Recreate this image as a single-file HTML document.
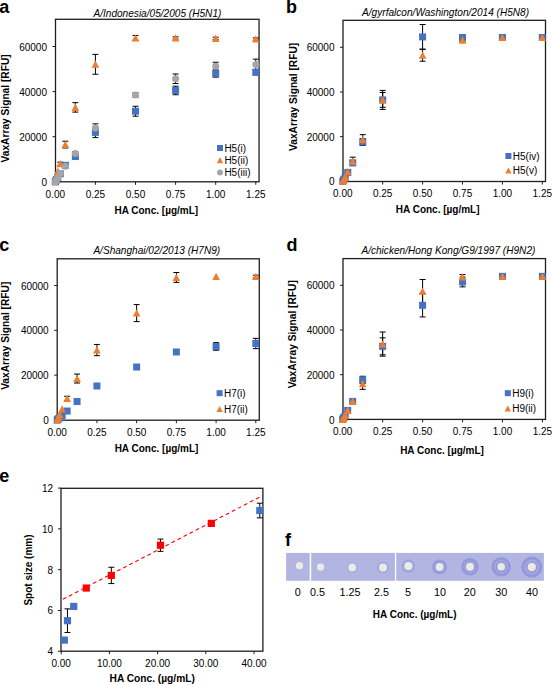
<!DOCTYPE html>
<html><head><meta charset="utf-8"><style>
html,body{margin:0;padding:0;background:#fff;}
body{width:552px;height:685px;overflow:hidden;}
svg{display:block;font-family:"Liberation Sans",sans-serif;}
</style></head><body>
<svg width="552" height="685" viewBox="0 0 552 685">
<rect width="552" height="685" fill="#fff"/>
<rect x="55.50" y="19.30" width="203.55" height="162.50" fill="none" stroke="#1e1e1e" stroke-width="1.3"/>
<line x1="52.50" y1="181.80" x2="55.50" y2="181.80" stroke="#1e1e1e" stroke-width="1" />
<text x="47.00" y="185.90" font-size="10" text-anchor="end" font-weight="normal" font-style="normal" fill="#000" >0</text>
<line x1="52.50" y1="136.70" x2="55.50" y2="136.70" stroke="#1e1e1e" stroke-width="1" />
<text x="47.00" y="140.80" font-size="10" text-anchor="end" font-weight="normal" font-style="normal" fill="#000" >20000</text>
<line x1="52.50" y1="91.60" x2="55.50" y2="91.60" stroke="#1e1e1e" stroke-width="1" />
<text x="47.00" y="95.70" font-size="10" text-anchor="end" font-weight="normal" font-style="normal" fill="#000" >40000</text>
<line x1="52.50" y1="46.50" x2="55.50" y2="46.50" stroke="#1e1e1e" stroke-width="1" />
<text x="47.00" y="50.60" font-size="10" text-anchor="end" font-weight="normal" font-style="normal" fill="#000" >60000</text>
<line x1="55.30" y1="181.80" x2="55.30" y2="184.80" stroke="#1e1e1e" stroke-width="1" />
<text x="55.30" y="197.50" font-size="10" text-anchor="middle" font-weight="normal" font-style="normal" fill="#000" >0.00</text>
<line x1="95.40" y1="181.80" x2="95.40" y2="184.80" stroke="#1e1e1e" stroke-width="1" />
<text x="95.40" y="197.50" font-size="10" text-anchor="middle" font-weight="normal" font-style="normal" fill="#000" >0.25</text>
<line x1="135.50" y1="181.80" x2="135.50" y2="184.80" stroke="#1e1e1e" stroke-width="1" />
<text x="135.50" y="197.50" font-size="10" text-anchor="middle" font-weight="normal" font-style="normal" fill="#000" >0.50</text>
<line x1="175.60" y1="181.80" x2="175.60" y2="184.80" stroke="#1e1e1e" stroke-width="1" />
<text x="175.60" y="197.50" font-size="10" text-anchor="middle" font-weight="normal" font-style="normal" fill="#000" >0.75</text>
<line x1="215.70" y1="181.80" x2="215.70" y2="184.80" stroke="#1e1e1e" stroke-width="1" />
<text x="215.70" y="197.50" font-size="10" text-anchor="middle" font-weight="normal" font-style="normal" fill="#000" >1.00</text>
<line x1="255.80" y1="181.80" x2="255.80" y2="184.80" stroke="#1e1e1e" stroke-width="1" />
<text x="255.80" y="197.50" font-size="10" text-anchor="middle" font-weight="normal" font-style="normal" fill="#000" >1.25</text>
<text x="157.40" y="16.50" font-size="10.1" text-anchor="middle" font-weight="normal" font-style="italic" fill="#000" >A/Indonesia/05/2005 (H5N1)</text>
<text x="156.30" y="213.90" font-size="10" text-anchor="middle" font-weight="bold" font-style="normal" fill="#000" >HA Conc. [µg/mL]</text>
<text x="0.00" y="0.00" font-size="10.2" text-anchor="middle" font-weight="bold" font-style="normal" fill="#000" transform="translate(9.20,108.40) rotate(-90)">VaxArray Signal [RFU]</text>
<text x="-0.70" y="12.60" font-size="18" text-anchor="start" font-weight="bold" font-style="normal" fill="#000" >a</text>
<line x1="65.33" y1="163.99" x2="65.33" y2="166.69" stroke="#000" stroke-width="1" />
<line x1="62.33" y1="163.99" x2="68.33" y2="163.99" stroke="#000" stroke-width="1" />
<line x1="62.33" y1="166.69" x2="68.33" y2="166.69" stroke="#000" stroke-width="1" />
<line x1="75.35" y1="154.74" x2="75.35" y2="158.35" stroke="#000" stroke-width="1" />
<line x1="72.35" y1="154.74" x2="78.35" y2="154.74" stroke="#000" stroke-width="1" />
<line x1="72.35" y1="158.35" x2="78.35" y2="158.35" stroke="#000" stroke-width="1" />
<line x1="95.40" y1="127.23" x2="95.40" y2="137.60" stroke="#000" stroke-width="1" />
<line x1="92.40" y1="127.23" x2="98.40" y2="127.23" stroke="#000" stroke-width="1" />
<line x1="92.40" y1="137.60" x2="98.40" y2="137.60" stroke="#000" stroke-width="1" />
<line x1="135.50" y1="106.26" x2="135.50" y2="116.18" stroke="#000" stroke-width="1" />
<line x1="132.50" y1="106.26" x2="138.50" y2="106.26" stroke="#000" stroke-width="1" />
<line x1="132.50" y1="116.18" x2="138.50" y2="116.18" stroke="#000" stroke-width="1" />
<line x1="175.60" y1="86.19" x2="175.60" y2="94.76" stroke="#000" stroke-width="1" />
<line x1="172.60" y1="86.19" x2="178.60" y2="86.19" stroke="#000" stroke-width="1" />
<line x1="172.60" y1="94.76" x2="178.60" y2="94.76" stroke="#000" stroke-width="1" />
<line x1="215.70" y1="69.95" x2="215.70" y2="77.17" stroke="#000" stroke-width="1" />
<line x1="212.70" y1="69.95" x2="218.70" y2="69.95" stroke="#000" stroke-width="1" />
<line x1="212.70" y1="77.17" x2="218.70" y2="77.17" stroke="#000" stroke-width="1" />
<line x1="255.80" y1="69.50" x2="255.80" y2="74.91" stroke="#000" stroke-width="1" />
<line x1="252.80" y1="69.50" x2="258.80" y2="69.50" stroke="#000" stroke-width="1" />
<line x1="252.80" y1="74.91" x2="258.80" y2="74.91" stroke="#000" stroke-width="1" />
<line x1="60.31" y1="162.18" x2="60.31" y2="165.34" stroke="#000" stroke-width="1" />
<line x1="57.31" y1="162.18" x2="63.31" y2="162.18" stroke="#000" stroke-width="1" />
<line x1="57.31" y1="165.34" x2="63.31" y2="165.34" stroke="#000" stroke-width="1" />
<line x1="65.33" y1="141.21" x2="65.33" y2="147.97" stroke="#000" stroke-width="1" />
<line x1="62.33" y1="141.21" x2="68.33" y2="141.21" stroke="#000" stroke-width="1" />
<line x1="62.33" y1="147.97" x2="68.33" y2="147.97" stroke="#000" stroke-width="1" />
<line x1="75.35" y1="102.65" x2="75.35" y2="112.12" stroke="#000" stroke-width="1" />
<line x1="72.35" y1="102.65" x2="78.35" y2="102.65" stroke="#000" stroke-width="1" />
<line x1="72.35" y1="112.12" x2="78.35" y2="112.12" stroke="#000" stroke-width="1" />
<line x1="95.40" y1="54.39" x2="95.40" y2="74.24" stroke="#000" stroke-width="1" />
<line x1="92.40" y1="54.39" x2="98.40" y2="54.39" stroke="#000" stroke-width="1" />
<line x1="92.40" y1="74.24" x2="98.40" y2="74.24" stroke="#000" stroke-width="1" />
<line x1="135.50" y1="35.45" x2="135.50" y2="40.41" stroke="#000" stroke-width="1" />
<line x1="132.50" y1="35.45" x2="138.50" y2="35.45" stroke="#000" stroke-width="1" />
<line x1="132.50" y1="40.41" x2="138.50" y2="40.41" stroke="#000" stroke-width="1" />
<line x1="175.60" y1="36.80" x2="175.60" y2="39.06" stroke="#000" stroke-width="1" />
<line x1="172.60" y1="36.80" x2="178.60" y2="36.80" stroke="#000" stroke-width="1" />
<line x1="172.60" y1="39.06" x2="178.60" y2="39.06" stroke="#000" stroke-width="1" />
<line x1="215.70" y1="37.25" x2="215.70" y2="39.51" stroke="#000" stroke-width="1" />
<line x1="212.70" y1="37.25" x2="218.70" y2="37.25" stroke="#000" stroke-width="1" />
<line x1="212.70" y1="39.51" x2="218.70" y2="39.51" stroke="#000" stroke-width="1" />
<line x1="255.80" y1="37.93" x2="255.80" y2="40.19" stroke="#000" stroke-width="1" />
<line x1="252.80" y1="37.93" x2="258.80" y2="37.93" stroke="#000" stroke-width="1" />
<line x1="252.80" y1="40.19" x2="258.80" y2="40.19" stroke="#000" stroke-width="1" />
<line x1="65.33" y1="165.11" x2="65.33" y2="167.37" stroke="#000" stroke-width="1" />
<line x1="62.33" y1="165.11" x2="68.33" y2="165.11" stroke="#000" stroke-width="1" />
<line x1="62.33" y1="167.37" x2="68.33" y2="167.37" stroke="#000" stroke-width="1" />
<line x1="75.35" y1="151.58" x2="75.35" y2="155.19" stroke="#000" stroke-width="1" />
<line x1="72.35" y1="151.58" x2="78.35" y2="151.58" stroke="#000" stroke-width="1" />
<line x1="72.35" y1="155.19" x2="78.35" y2="155.19" stroke="#000" stroke-width="1" />
<line x1="95.40" y1="123.85" x2="95.40" y2="131.96" stroke="#000" stroke-width="1" />
<line x1="92.40" y1="123.85" x2="98.40" y2="123.85" stroke="#000" stroke-width="1" />
<line x1="92.40" y1="131.96" x2="98.40" y2="131.96" stroke="#000" stroke-width="1" />
<line x1="135.50" y1="92.73" x2="135.50" y2="97.24" stroke="#000" stroke-width="1" />
<line x1="132.50" y1="92.73" x2="138.50" y2="92.73" stroke="#000" stroke-width="1" />
<line x1="132.50" y1="97.24" x2="138.50" y2="97.24" stroke="#000" stroke-width="1" />
<line x1="175.60" y1="74.01" x2="175.60" y2="83.48" stroke="#000" stroke-width="1" />
<line x1="172.60" y1="74.01" x2="178.60" y2="74.01" stroke="#000" stroke-width="1" />
<line x1="172.60" y1="83.48" x2="178.60" y2="83.48" stroke="#000" stroke-width="1" />
<line x1="215.70" y1="62.29" x2="215.70" y2="70.40" stroke="#000" stroke-width="1" />
<line x1="212.70" y1="62.29" x2="218.70" y2="62.29" stroke="#000" stroke-width="1" />
<line x1="212.70" y1="70.40" x2="218.70" y2="70.40" stroke="#000" stroke-width="1" />
<line x1="255.80" y1="59.13" x2="255.80" y2="69.95" stroke="#000" stroke-width="1" />
<line x1="252.80" y1="59.13" x2="258.80" y2="59.13" stroke="#000" stroke-width="1" />
<line x1="252.80" y1="69.95" x2="258.80" y2="69.95" stroke="#000" stroke-width="1" />
<rect x="51.80" y="178.30" width="7" height="7" fill="#4472C4"/>
<rect x="52.43" y="177.17" width="7" height="7" fill="#4472C4"/>
<rect x="53.05" y="176.05" width="7" height="7" fill="#4472C4"/>
<rect x="54.30" y="174.02" width="7" height="7" fill="#4472C4"/>
<rect x="56.81" y="170.18" width="7" height="7" fill="#4472C4"/>
<rect x="61.83" y="161.84" width="7" height="7" fill="#4472C4"/>
<rect x="71.85" y="153.04" width="7" height="7" fill="#4472C4"/>
<rect x="91.90" y="128.92" width="7" height="7" fill="#4472C4"/>
<rect x="132.00" y="107.72" width="7" height="7" fill="#4472C4"/>
<rect x="172.10" y="86.97" width="7" height="7" fill="#4472C4"/>
<rect x="212.20" y="70.06" width="7" height="7" fill="#4472C4"/>
<rect x="252.30" y="68.71" width="7" height="7" fill="#4472C4"/>
<polygon points="55.30,178.00 59.10,185.30 51.50,185.30" fill="#ED7D31"/>
<polygon points="55.93,175.75 59.73,183.05 52.13,183.05" fill="#ED7D31"/>
<polygon points="56.55,173.04 60.35,180.34 52.75,180.34" fill="#ED7D31"/>
<polygon points="57.80,167.40 61.60,174.70 54.00,174.70" fill="#ED7D31"/>
<polygon points="60.31,159.96 64.11,167.26 56.51,167.26" fill="#ED7D31"/>
<polygon points="65.33,140.79 69.12,148.09 61.53,148.09" fill="#ED7D31"/>
<polygon points="75.35,103.59 79.15,110.89 71.55,110.89" fill="#ED7D31"/>
<polygon points="95.40,60.51 99.20,67.81 91.60,67.81" fill="#ED7D31"/>
<polygon points="135.50,34.13 139.30,41.43 131.70,41.43" fill="#ED7D31"/>
<polygon points="175.60,34.13 179.40,41.43 171.80,41.43" fill="#ED7D31"/>
<polygon points="215.70,34.58 219.50,41.88 211.90,41.88" fill="#ED7D31"/>
<polygon points="255.80,35.26 259.60,42.56 252.00,42.56" fill="#ED7D31"/>
<circle cx="55.30" cy="181.80" r="3.5" fill="#A5A5A5"/>
<circle cx="55.93" cy="180.67" r="3.5" fill="#A5A5A5"/>
<circle cx="56.55" cy="179.55" r="3.5" fill="#A5A5A5"/>
<circle cx="57.80" cy="177.74" r="3.5" fill="#A5A5A5"/>
<circle cx="60.31" cy="173.23" r="3.5" fill="#A5A5A5"/>
<circle cx="65.33" cy="166.24" r="3.5" fill="#A5A5A5"/>
<circle cx="75.35" cy="153.39" r="3.5" fill="#A5A5A5"/>
<circle cx="95.40" cy="127.91" r="3.5" fill="#A5A5A5"/>
<circle cx="135.50" cy="94.98" r="3.5" fill="#A5A5A5"/>
<circle cx="175.60" cy="78.75" r="3.5" fill="#A5A5A5"/>
<circle cx="215.70" cy="66.34" r="3.5" fill="#A5A5A5"/>
<circle cx="255.80" cy="64.54" r="3.5" fill="#A5A5A5"/>
<rect x="217.00" y="145.00" width="6" height="6" fill="#4472C4"/>
<text x="224.40" y="151.60" font-size="10" text-anchor="start" font-weight="normal" font-style="normal" fill="#000" >H5(i)</text>
<polygon points="220.00,157.10 223.20,163.20 216.80,163.20" fill="#ED7D31"/>
<text x="224.40" y="163.90" font-size="10" text-anchor="start" font-weight="normal" font-style="normal" fill="#000" >H5(ii)</text>
<circle cx="220.00" cy="172.60" r="3" fill="#A5A5A5"/>
<text x="224.40" y="176.20" font-size="10" text-anchor="start" font-weight="normal" font-style="normal" fill="#000" >H5(iii)</text>
<rect x="343.00" y="20.30" width="202.50" height="161.20" fill="none" stroke="#1e1e1e" stroke-width="1.3"/>
<line x1="340.00" y1="181.30" x2="343.00" y2="181.30" stroke="#1e1e1e" stroke-width="1" />
<text x="334.50" y="185.40" font-size="10" text-anchor="end" font-weight="normal" font-style="normal" fill="#000" >0</text>
<line x1="340.00" y1="136.63" x2="343.00" y2="136.63" stroke="#1e1e1e" stroke-width="1" />
<text x="334.50" y="140.73" font-size="10" text-anchor="end" font-weight="normal" font-style="normal" fill="#000" >20000</text>
<line x1="340.00" y1="91.96" x2="343.00" y2="91.96" stroke="#1e1e1e" stroke-width="1" />
<text x="334.50" y="96.06" font-size="10" text-anchor="end" font-weight="normal" font-style="normal" fill="#000" >40000</text>
<line x1="340.00" y1="47.29" x2="343.00" y2="47.29" stroke="#1e1e1e" stroke-width="1" />
<text x="334.50" y="51.39" font-size="10" text-anchor="end" font-weight="normal" font-style="normal" fill="#000" >60000</text>
<line x1="342.80" y1="181.50" x2="342.80" y2="184.50" stroke="#1e1e1e" stroke-width="1" />
<text x="342.80" y="197.20" font-size="10" text-anchor="middle" font-weight="normal" font-style="normal" fill="#000" >0.00</text>
<line x1="382.70" y1="181.50" x2="382.70" y2="184.50" stroke="#1e1e1e" stroke-width="1" />
<text x="382.70" y="197.20" font-size="10" text-anchor="middle" font-weight="normal" font-style="normal" fill="#000" >0.25</text>
<line x1="422.60" y1="181.50" x2="422.60" y2="184.50" stroke="#1e1e1e" stroke-width="1" />
<text x="422.60" y="197.20" font-size="10" text-anchor="middle" font-weight="normal" font-style="normal" fill="#000" >0.50</text>
<line x1="462.50" y1="181.50" x2="462.50" y2="184.50" stroke="#1e1e1e" stroke-width="1" />
<text x="462.50" y="197.20" font-size="10" text-anchor="middle" font-weight="normal" font-style="normal" fill="#000" >0.75</text>
<line x1="502.40" y1="181.50" x2="502.40" y2="184.50" stroke="#1e1e1e" stroke-width="1" />
<text x="502.40" y="197.20" font-size="10" text-anchor="middle" font-weight="normal" font-style="normal" fill="#000" >1.00</text>
<line x1="542.30" y1="181.50" x2="542.30" y2="184.50" stroke="#1e1e1e" stroke-width="1" />
<text x="542.30" y="197.20" font-size="10" text-anchor="middle" font-weight="normal" font-style="normal" fill="#000" >1.25</text>
<text x="445.60" y="15.50" font-size="10.1" text-anchor="middle" font-weight="normal" font-style="italic" fill="#000" >A/gyrfalcon/Washington/2014 (H5N8)</text>
<text x="437.70" y="213.30" font-size="10" text-anchor="middle" font-weight="bold" font-style="normal" fill="#000" >HA Conc. [µg/mL]</text>
<text x="0.00" y="0.00" font-size="10.2" text-anchor="middle" font-weight="bold" font-style="normal" fill="#000" transform="translate(296.50,96.90) rotate(-90)">VaxArray Signal [RFU]</text>
<text x="285.90" y="12.60" font-size="18" text-anchor="start" font-weight="bold" font-style="normal" fill="#000" >b</text>
<line x1="347.79" y1="171.25" x2="347.79" y2="173.48" stroke="#000" stroke-width="1" />
<line x1="344.79" y1="171.25" x2="350.79" y2="171.25" stroke="#000" stroke-width="1" />
<line x1="344.79" y1="173.48" x2="350.79" y2="173.48" stroke="#000" stroke-width="1" />
<line x1="352.78" y1="160.53" x2="352.78" y2="165.00" stroke="#000" stroke-width="1" />
<line x1="349.78" y1="160.53" x2="355.78" y2="160.53" stroke="#000" stroke-width="1" />
<line x1="349.78" y1="165.00" x2="355.78" y2="165.00" stroke="#000" stroke-width="1" />
<line x1="362.75" y1="138.64" x2="362.75" y2="145.34" stroke="#000" stroke-width="1" />
<line x1="359.75" y1="138.64" x2="365.75" y2="138.64" stroke="#000" stroke-width="1" />
<line x1="359.75" y1="145.34" x2="365.75" y2="145.34" stroke="#000" stroke-width="1" />
<line x1="382.70" y1="90.42" x2="382.70" y2="109.40" stroke="#000" stroke-width="1" />
<line x1="379.70" y1="90.42" x2="385.70" y2="90.42" stroke="#000" stroke-width="1" />
<line x1="379.70" y1="109.40" x2="385.70" y2="109.40" stroke="#000" stroke-width="1" />
<line x1="422.60" y1="24.51" x2="422.60" y2="49.30" stroke="#000" stroke-width="1" />
<line x1="419.60" y1="24.51" x2="425.60" y2="24.51" stroke="#000" stroke-width="1" />
<line x1="419.60" y1="49.30" x2="425.60" y2="49.30" stroke="#000" stroke-width="1" />
<line x1="462.50" y1="36.12" x2="462.50" y2="38.80" stroke="#000" stroke-width="1" />
<line x1="459.50" y1="36.12" x2="465.50" y2="36.12" stroke="#000" stroke-width="1" />
<line x1="459.50" y1="38.80" x2="465.50" y2="38.80" stroke="#000" stroke-width="1" />
<line x1="502.40" y1="36.12" x2="502.40" y2="38.80" stroke="#000" stroke-width="1" />
<line x1="499.40" y1="36.12" x2="505.40" y2="36.12" stroke="#000" stroke-width="1" />
<line x1="499.40" y1="38.80" x2="505.40" y2="38.80" stroke="#000" stroke-width="1" />
<line x1="542.30" y1="36.12" x2="542.30" y2="38.80" stroke="#000" stroke-width="1" />
<line x1="539.30" y1="36.12" x2="545.30" y2="36.12" stroke="#000" stroke-width="1" />
<line x1="539.30" y1="38.80" x2="545.30" y2="38.80" stroke="#000" stroke-width="1" />
<line x1="347.79" y1="170.58" x2="347.79" y2="172.81" stroke="#000" stroke-width="1" />
<line x1="344.79" y1="170.58" x2="350.79" y2="170.58" stroke="#000" stroke-width="1" />
<line x1="344.79" y1="172.81" x2="350.79" y2="172.81" stroke="#000" stroke-width="1" />
<line x1="352.78" y1="157.18" x2="352.78" y2="165.67" stroke="#000" stroke-width="1" />
<line x1="349.78" y1="157.18" x2="355.78" y2="157.18" stroke="#000" stroke-width="1" />
<line x1="349.78" y1="165.67" x2="355.78" y2="165.67" stroke="#000" stroke-width="1" />
<line x1="362.75" y1="134.62" x2="362.75" y2="144.89" stroke="#000" stroke-width="1" />
<line x1="359.75" y1="134.62" x2="365.75" y2="134.62" stroke="#000" stroke-width="1" />
<line x1="359.75" y1="144.89" x2="365.75" y2="144.89" stroke="#000" stroke-width="1" />
<line x1="382.70" y1="92.54" x2="382.70" y2="107.28" stroke="#000" stroke-width="1" />
<line x1="379.70" y1="92.54" x2="385.70" y2="92.54" stroke="#000" stroke-width="1" />
<line x1="379.70" y1="107.28" x2="385.70" y2="107.28" stroke="#000" stroke-width="1" />
<line x1="422.60" y1="49.17" x2="422.60" y2="61.23" stroke="#000" stroke-width="1" />
<line x1="419.60" y1="49.17" x2="425.60" y2="49.17" stroke="#000" stroke-width="1" />
<line x1="419.60" y1="61.23" x2="425.60" y2="61.23" stroke="#000" stroke-width="1" />
<line x1="462.50" y1="38.80" x2="462.50" y2="41.48" stroke="#000" stroke-width="1" />
<line x1="459.50" y1="38.80" x2="465.50" y2="38.80" stroke="#000" stroke-width="1" />
<line x1="459.50" y1="41.48" x2="465.50" y2="41.48" stroke="#000" stroke-width="1" />
<line x1="502.40" y1="36.12" x2="502.40" y2="38.80" stroke="#000" stroke-width="1" />
<line x1="499.40" y1="36.12" x2="505.40" y2="36.12" stroke="#000" stroke-width="1" />
<line x1="499.40" y1="38.80" x2="505.40" y2="38.80" stroke="#000" stroke-width="1" />
<line x1="542.30" y1="36.12" x2="542.30" y2="38.80" stroke="#000" stroke-width="1" />
<line x1="539.30" y1="36.12" x2="545.30" y2="36.12" stroke="#000" stroke-width="1" />
<line x1="539.30" y1="38.80" x2="545.30" y2="38.80" stroke="#000" stroke-width="1" />
<rect x="339.30" y="177.80" width="7" height="7" fill="#4472C4"/>
<rect x="339.92" y="176.68" width="7" height="7" fill="#4472C4"/>
<rect x="340.54" y="175.57" width="7" height="7" fill="#4472C4"/>
<rect x="341.79" y="173.33" width="7" height="7" fill="#4472C4"/>
<rect x="344.29" y="168.87" width="7" height="7" fill="#4472C4"/>
<rect x="349.28" y="159.26" width="7" height="7" fill="#4472C4"/>
<rect x="359.25" y="138.49" width="7" height="7" fill="#4472C4"/>
<rect x="379.20" y="96.41" width="7" height="7" fill="#4472C4"/>
<rect x="419.10" y="33.40" width="7" height="7" fill="#4472C4"/>
<rect x="459.00" y="33.96" width="7" height="7" fill="#4472C4"/>
<rect x="498.90" y="33.96" width="7" height="7" fill="#4472C4"/>
<rect x="538.80" y="33.96" width="7" height="7" fill="#4472C4"/>
<polygon points="342.80,177.50 346.60,184.80 339.00,184.80" fill="#ED7D31"/>
<polygon points="343.42,176.38 347.22,183.68 339.62,183.68" fill="#ED7D31"/>
<polygon points="344.04,175.27 347.84,182.57 340.24,182.57" fill="#ED7D31"/>
<polygon points="345.29,173.03 349.09,180.33 341.49,180.33" fill="#ED7D31"/>
<polygon points="347.79,167.90 351.59,175.20 343.99,175.20" fill="#ED7D31"/>
<polygon points="352.78,157.62 356.58,164.92 348.98,164.92" fill="#ED7D31"/>
<polygon points="362.75,135.96 366.55,143.26 358.95,143.26" fill="#ED7D31"/>
<polygon points="382.70,96.11 386.50,103.41 378.90,103.41" fill="#ED7D31"/>
<polygon points="422.60,51.40 426.40,58.70 418.80,58.70" fill="#ED7D31"/>
<polygon points="462.50,36.34 466.30,43.64 458.70,43.64" fill="#ED7D31"/>
<polygon points="502.40,33.66 506.20,40.96 498.60,40.96" fill="#ED7D31"/>
<polygon points="542.30,33.66 546.10,40.96 538.50,40.96" fill="#ED7D31"/>
<rect x="505.40" y="153.00" width="6" height="6" fill="#4472C4"/>
<text x="512.80" y="159.60" font-size="10" text-anchor="start" font-weight="normal" font-style="normal" fill="#000" >H5(iv)</text>
<polygon points="508.40,167.40 511.60,173.50 505.20,173.50" fill="#ED7D31"/>
<text x="512.80" y="174.20" font-size="10" text-anchor="start" font-weight="normal" font-style="normal" fill="#000" >H5(v)</text>
<rect x="57.20" y="258.80" width="202.10" height="161.40" fill="none" stroke="#1e1e1e" stroke-width="1.3"/>
<line x1="54.20" y1="420.00" x2="57.20" y2="420.00" stroke="#1e1e1e" stroke-width="1" />
<text x="48.70" y="424.10" font-size="10" text-anchor="end" font-weight="normal" font-style="normal" fill="#000" >0</text>
<line x1="54.20" y1="375.17" x2="57.20" y2="375.17" stroke="#1e1e1e" stroke-width="1" />
<text x="48.70" y="379.27" font-size="10" text-anchor="end" font-weight="normal" font-style="normal" fill="#000" >20000</text>
<line x1="54.20" y1="330.34" x2="57.20" y2="330.34" stroke="#1e1e1e" stroke-width="1" />
<text x="48.70" y="334.44" font-size="10" text-anchor="end" font-weight="normal" font-style="normal" fill="#000" >40000</text>
<line x1="54.20" y1="285.51" x2="57.20" y2="285.51" stroke="#1e1e1e" stroke-width="1" />
<text x="48.70" y="289.61" font-size="10" text-anchor="end" font-weight="normal" font-style="normal" fill="#000" >60000</text>
<line x1="57.20" y1="420.20" x2="57.20" y2="423.20" stroke="#1e1e1e" stroke-width="1" />
<text x="57.20" y="435.90" font-size="10" text-anchor="middle" font-weight="normal" font-style="normal" fill="#000" >0.00</text>
<line x1="96.93" y1="420.20" x2="96.93" y2="423.20" stroke="#1e1e1e" stroke-width="1" />
<text x="96.93" y="435.90" font-size="10" text-anchor="middle" font-weight="normal" font-style="normal" fill="#000" >0.25</text>
<line x1="136.65" y1="420.20" x2="136.65" y2="423.20" stroke="#1e1e1e" stroke-width="1" />
<text x="136.65" y="435.90" font-size="10" text-anchor="middle" font-weight="normal" font-style="normal" fill="#000" >0.50</text>
<line x1="176.38" y1="420.20" x2="176.38" y2="423.20" stroke="#1e1e1e" stroke-width="1" />
<text x="176.38" y="435.90" font-size="10" text-anchor="middle" font-weight="normal" font-style="normal" fill="#000" >0.75</text>
<line x1="216.10" y1="420.20" x2="216.10" y2="423.20" stroke="#1e1e1e" stroke-width="1" />
<text x="216.10" y="435.90" font-size="10" text-anchor="middle" font-weight="normal" font-style="normal" fill="#000" >1.00</text>
<line x1="255.82" y1="420.20" x2="255.82" y2="423.20" stroke="#1e1e1e" stroke-width="1" />
<text x="255.82" y="435.90" font-size="10" text-anchor="middle" font-weight="normal" font-style="normal" fill="#000" >1.25</text>
<text x="156.80" y="254.00" font-size="10.1" text-anchor="middle" font-weight="normal" font-style="italic" fill="#000" >A/Shanghai/02/2013 (H7N9)</text>
<text x="156.50" y="452.40" font-size="10" text-anchor="middle" font-weight="bold" font-style="normal" fill="#000" >HA Conc. [µg/mL]</text>
<text x="0.00" y="0.00" font-size="10.2" text-anchor="middle" font-weight="bold" font-style="normal" fill="#000" transform="translate(9.20,335.80) rotate(-90)">VaxArray Signal [RFU]</text>
<text x="-0.70" y="250.70" font-size="18" text-anchor="start" font-weight="bold" font-style="normal" fill="#000" >c</text>
<line x1="216.10" y1="342.67" x2="216.10" y2="350.29" stroke="#000" stroke-width="1" />
<line x1="213.10" y1="342.67" x2="219.10" y2="342.67" stroke="#000" stroke-width="1" />
<line x1="213.10" y1="350.29" x2="219.10" y2="350.29" stroke="#000" stroke-width="1" />
<line x1="255.82" y1="338.34" x2="255.82" y2="348.65" stroke="#000" stroke-width="1" />
<line x1="252.82" y1="338.34" x2="258.82" y2="338.34" stroke="#000" stroke-width="1" />
<line x1="252.82" y1="348.65" x2="258.82" y2="348.65" stroke="#000" stroke-width="1" />
<line x1="67.13" y1="396.26" x2="67.13" y2="400.75" stroke="#000" stroke-width="1" />
<line x1="64.13" y1="396.26" x2="70.13" y2="396.26" stroke="#000" stroke-width="1" />
<line x1="64.13" y1="400.75" x2="70.13" y2="400.75" stroke="#000" stroke-width="1" />
<line x1="77.06" y1="374.05" x2="77.06" y2="383.02" stroke="#000" stroke-width="1" />
<line x1="74.06" y1="374.05" x2="80.06" y2="374.05" stroke="#000" stroke-width="1" />
<line x1="74.06" y1="383.02" x2="80.06" y2="383.02" stroke="#000" stroke-width="1" />
<line x1="96.93" y1="344.46" x2="96.93" y2="355.67" stroke="#000" stroke-width="1" />
<line x1="93.93" y1="344.46" x2="99.93" y2="344.46" stroke="#000" stroke-width="1" />
<line x1="93.93" y1="355.67" x2="99.93" y2="355.67" stroke="#000" stroke-width="1" />
<line x1="136.65" y1="304.59" x2="136.65" y2="321.62" stroke="#000" stroke-width="1" />
<line x1="133.65" y1="304.59" x2="139.65" y2="304.59" stroke="#000" stroke-width="1" />
<line x1="133.65" y1="321.62" x2="139.65" y2="321.62" stroke="#000" stroke-width="1" />
<line x1="176.38" y1="272.51" x2="176.38" y2="282.37" stroke="#000" stroke-width="1" />
<line x1="173.38" y1="272.51" x2="179.38" y2="272.51" stroke="#000" stroke-width="1" />
<line x1="173.38" y1="282.37" x2="179.38" y2="282.37" stroke="#000" stroke-width="1" />
<line x1="255.82" y1="275.20" x2="255.82" y2="277.89" stroke="#000" stroke-width="1" />
<line x1="252.82" y1="275.20" x2="258.82" y2="275.20" stroke="#000" stroke-width="1" />
<line x1="252.82" y1="277.89" x2="258.82" y2="277.89" stroke="#000" stroke-width="1" />
<rect x="53.70" y="416.50" width="7" height="7" fill="#4472C4"/>
<rect x="54.32" y="415.83" width="7" height="7" fill="#4472C4"/>
<rect x="54.94" y="415.16" width="7" height="7" fill="#4472C4"/>
<rect x="56.18" y="414.26" width="7" height="7" fill="#4472C4"/>
<rect x="58.67" y="412.02" width="7" height="7" fill="#4472C4"/>
<rect x="63.63" y="407.53" width="7" height="7" fill="#4472C4"/>
<rect x="73.56" y="398.01" width="7" height="7" fill="#4472C4"/>
<rect x="93.43" y="382.50" width="7" height="7" fill="#4472C4"/>
<rect x="133.15" y="363.51" width="7" height="7" fill="#4472C4"/>
<rect x="172.88" y="348.49" width="7" height="7" fill="#4472C4"/>
<rect x="212.60" y="342.98" width="7" height="7" fill="#4472C4"/>
<rect x="252.32" y="340.00" width="7" height="7" fill="#4472C4"/>
<polygon points="57.20,416.20 61.00,423.50 53.40,423.50" fill="#ED7D31"/>
<polygon points="57.82,414.86 61.62,422.16 54.02,422.16" fill="#ED7D31"/>
<polygon points="58.44,413.51 62.24,420.81 54.64,420.81" fill="#ED7D31"/>
<polygon points="59.68,410.82 63.48,418.12 55.88,418.12" fill="#ED7D31"/>
<polygon points="62.17,405.22 65.97,412.52 58.37,412.52" fill="#ED7D31"/>
<polygon points="67.13,394.70 70.93,402.00 63.33,402.00" fill="#ED7D31"/>
<polygon points="77.06,374.73 80.86,382.03 73.26,382.03" fill="#ED7D31"/>
<polygon points="96.93,346.27 100.73,353.57 93.13,353.57" fill="#ED7D31"/>
<polygon points="136.65,309.30 140.45,316.60 132.85,316.60" fill="#ED7D31"/>
<polygon points="176.38,273.64 180.18,280.94 172.57,280.94" fill="#ED7D31"/>
<polygon points="216.10,272.74 219.90,280.04 212.30,280.04" fill="#ED7D31"/>
<polygon points="255.82,272.74 259.62,280.04 252.02,280.04" fill="#ED7D31"/>
<rect x="216.60" y="390.20" width="6" height="6" fill="#4472C4"/>
<text x="224.00" y="396.80" font-size="10" text-anchor="start" font-weight="normal" font-style="normal" fill="#000" >H7(i)</text>
<polygon points="219.60,406.00 222.80,412.10 216.40,412.10" fill="#ED7D31"/>
<text x="224.00" y="412.80" font-size="10" text-anchor="start" font-weight="normal" font-style="normal" fill="#000" >H7(ii)</text>
<rect x="343.00" y="258.60" width="202.50" height="160.80" fill="none" stroke="#1e1e1e" stroke-width="1.3"/>
<line x1="340.00" y1="419.40" x2="343.00" y2="419.40" stroke="#1e1e1e" stroke-width="1" />
<text x="334.50" y="423.50" font-size="10" text-anchor="end" font-weight="normal" font-style="normal" fill="#000" >0</text>
<line x1="340.00" y1="374.70" x2="343.00" y2="374.70" stroke="#1e1e1e" stroke-width="1" />
<text x="334.50" y="378.80" font-size="10" text-anchor="end" font-weight="normal" font-style="normal" fill="#000" >20000</text>
<line x1="340.00" y1="330.00" x2="343.00" y2="330.00" stroke="#1e1e1e" stroke-width="1" />
<text x="334.50" y="334.10" font-size="10" text-anchor="end" font-weight="normal" font-style="normal" fill="#000" >40000</text>
<line x1="340.00" y1="285.30" x2="343.00" y2="285.30" stroke="#1e1e1e" stroke-width="1" />
<text x="334.50" y="289.40" font-size="10" text-anchor="end" font-weight="normal" font-style="normal" fill="#000" >60000</text>
<line x1="342.70" y1="419.40" x2="342.70" y2="422.40" stroke="#1e1e1e" stroke-width="1" />
<text x="342.70" y="435.10" font-size="10" text-anchor="middle" font-weight="normal" font-style="normal" fill="#000" >0.00</text>
<line x1="382.65" y1="419.40" x2="382.65" y2="422.40" stroke="#1e1e1e" stroke-width="1" />
<text x="382.65" y="435.10" font-size="10" text-anchor="middle" font-weight="normal" font-style="normal" fill="#000" >0.25</text>
<line x1="422.60" y1="419.40" x2="422.60" y2="422.40" stroke="#1e1e1e" stroke-width="1" />
<text x="422.60" y="435.10" font-size="10" text-anchor="middle" font-weight="normal" font-style="normal" fill="#000" >0.50</text>
<line x1="462.55" y1="419.40" x2="462.55" y2="422.40" stroke="#1e1e1e" stroke-width="1" />
<text x="462.55" y="435.10" font-size="10" text-anchor="middle" font-weight="normal" font-style="normal" fill="#000" >0.75</text>
<line x1="502.50" y1="419.40" x2="502.50" y2="422.40" stroke="#1e1e1e" stroke-width="1" />
<text x="502.50" y="435.10" font-size="10" text-anchor="middle" font-weight="normal" font-style="normal" fill="#000" >1.00</text>
<line x1="542.45" y1="419.40" x2="542.45" y2="422.40" stroke="#1e1e1e" stroke-width="1" />
<text x="542.45" y="435.10" font-size="10" text-anchor="middle" font-weight="normal" font-style="normal" fill="#000" >1.25</text>
<text x="448.40" y="254.10" font-size="10.1" text-anchor="middle" font-weight="normal" font-style="italic" fill="#000" >A/chicken/Hong Kong/G9/1997 (H9N2)</text>
<text x="442.00" y="454.20" font-size="10" text-anchor="middle" font-weight="bold" font-style="normal" fill="#000" >HA Conc. [µg/mL]</text>
<text x="0.00" y="0.00" font-size="10.2" text-anchor="middle" font-weight="bold" font-style="normal" fill="#000" transform="translate(296.30,334.30) rotate(-90)">VaxArray Signal [RFU]</text>
<text x="286.40" y="250.70" font-size="18" text-anchor="start" font-weight="bold" font-style="normal" fill="#000" >d</text>
<line x1="362.68" y1="376.26" x2="362.68" y2="383.42" stroke="#000" stroke-width="1" />
<line x1="359.68" y1="376.26" x2="365.68" y2="376.26" stroke="#000" stroke-width="1" />
<line x1="359.68" y1="383.42" x2="365.68" y2="383.42" stroke="#000" stroke-width="1" />
<line x1="382.65" y1="337.82" x2="382.65" y2="354.81" stroke="#000" stroke-width="1" />
<line x1="379.65" y1="337.82" x2="385.65" y2="337.82" stroke="#000" stroke-width="1" />
<line x1="379.65" y1="354.81" x2="385.65" y2="354.81" stroke="#000" stroke-width="1" />
<line x1="422.60" y1="293.70" x2="422.60" y2="316.95" stroke="#000" stroke-width="1" />
<line x1="419.60" y1="293.70" x2="425.60" y2="293.70" stroke="#000" stroke-width="1" />
<line x1="419.60" y1="316.95" x2="425.60" y2="316.95" stroke="#000" stroke-width="1" />
<line x1="462.55" y1="277.03" x2="462.55" y2="286.86" stroke="#000" stroke-width="1" />
<line x1="459.55" y1="277.03" x2="465.55" y2="277.03" stroke="#000" stroke-width="1" />
<line x1="459.55" y1="286.86" x2="465.55" y2="286.86" stroke="#000" stroke-width="1" />
<line x1="502.50" y1="275.02" x2="502.50" y2="277.70" stroke="#000" stroke-width="1" />
<line x1="499.50" y1="275.02" x2="505.50" y2="275.02" stroke="#000" stroke-width="1" />
<line x1="499.50" y1="277.70" x2="505.50" y2="277.70" stroke="#000" stroke-width="1" />
<line x1="542.45" y1="275.02" x2="542.45" y2="277.70" stroke="#000" stroke-width="1" />
<line x1="539.45" y1="275.02" x2="545.45" y2="275.02" stroke="#000" stroke-width="1" />
<line x1="539.45" y1="277.70" x2="545.45" y2="277.70" stroke="#000" stroke-width="1" />
<line x1="362.68" y1="377.94" x2="362.68" y2="389.34" stroke="#000" stroke-width="1" />
<line x1="359.68" y1="377.94" x2="365.68" y2="377.94" stroke="#000" stroke-width="1" />
<line x1="359.68" y1="389.34" x2="365.68" y2="389.34" stroke="#000" stroke-width="1" />
<line x1="382.65" y1="332.01" x2="382.65" y2="356.15" stroke="#000" stroke-width="1" />
<line x1="379.65" y1="332.01" x2="385.65" y2="332.01" stroke="#000" stroke-width="1" />
<line x1="379.65" y1="356.15" x2="385.65" y2="356.15" stroke="#000" stroke-width="1" />
<line x1="422.60" y1="279.49" x2="422.60" y2="303.18" stroke="#000" stroke-width="1" />
<line x1="419.60" y1="279.49" x2="425.60" y2="279.49" stroke="#000" stroke-width="1" />
<line x1="419.60" y1="303.18" x2="425.60" y2="303.18" stroke="#000" stroke-width="1" />
<line x1="462.55" y1="274.57" x2="462.55" y2="279.49" stroke="#000" stroke-width="1" />
<line x1="459.55" y1="274.57" x2="465.55" y2="274.57" stroke="#000" stroke-width="1" />
<line x1="459.55" y1="279.49" x2="465.55" y2="279.49" stroke="#000" stroke-width="1" />
<line x1="502.50" y1="275.02" x2="502.50" y2="277.70" stroke="#000" stroke-width="1" />
<line x1="499.50" y1="275.02" x2="505.50" y2="275.02" stroke="#000" stroke-width="1" />
<line x1="499.50" y1="277.70" x2="505.50" y2="277.70" stroke="#000" stroke-width="1" />
<line x1="542.45" y1="275.02" x2="542.45" y2="277.70" stroke="#000" stroke-width="1" />
<line x1="539.45" y1="275.02" x2="545.45" y2="275.02" stroke="#000" stroke-width="1" />
<line x1="539.45" y1="277.70" x2="545.45" y2="277.70" stroke="#000" stroke-width="1" />
<rect x="339.20" y="415.90" width="7" height="7" fill="#4472C4"/>
<rect x="339.82" y="414.78" width="7" height="7" fill="#4472C4"/>
<rect x="340.45" y="413.66" width="7" height="7" fill="#4472C4"/>
<rect x="341.69" y="411.43" width="7" height="7" fill="#4472C4"/>
<rect x="344.19" y="406.89" width="7" height="7" fill="#4472C4"/>
<rect x="349.19" y="397.89" width="7" height="7" fill="#4472C4"/>
<rect x="359.18" y="376.34" width="7" height="7" fill="#4472C4"/>
<rect x="379.15" y="342.82" width="7" height="7" fill="#4472C4"/>
<rect x="419.10" y="301.83" width="7" height="7" fill="#4472C4"/>
<rect x="459.05" y="278.45" width="7" height="7" fill="#4472C4"/>
<rect x="499.00" y="272.86" width="7" height="7" fill="#4472C4"/>
<rect x="538.95" y="272.86" width="7" height="7" fill="#4472C4"/>
<polygon points="342.70,415.60 346.50,422.90 338.90,422.90" fill="#ED7D31"/>
<polygon points="343.32,414.48 347.12,421.78 339.52,421.78" fill="#ED7D31"/>
<polygon points="343.95,413.36 347.75,420.66 340.15,420.66" fill="#ED7D31"/>
<polygon points="345.19,411.13 348.99,418.43 341.39,418.43" fill="#ED7D31"/>
<polygon points="347.69,406.59 351.49,413.89 343.89,413.89" fill="#ED7D31"/>
<polygon points="352.69,397.59 356.49,404.89 348.89,404.89" fill="#ED7D31"/>
<polygon points="362.68,379.84 366.48,387.14 358.88,387.14" fill="#ED7D31"/>
<polygon points="382.65,340.28 386.45,347.58 378.85,347.58" fill="#ED7D31"/>
<polygon points="422.60,287.53 426.40,294.83 418.80,294.83" fill="#ED7D31"/>
<polygon points="462.55,273.23 466.35,280.53 458.75,280.53" fill="#ED7D31"/>
<polygon points="502.50,272.56 506.30,279.86 498.70,279.86" fill="#ED7D31"/>
<polygon points="542.45,272.56 546.25,279.86 538.65,279.86" fill="#ED7D31"/>
<rect x="504.80" y="390.20" width="6" height="6" fill="#4472C4"/>
<text x="512.20" y="396.80" font-size="10" text-anchor="start" font-weight="normal" font-style="normal" fill="#000" >H9(i)</text>
<polygon points="507.80,405.40 511.00,411.50 504.60,411.50" fill="#ED7D31"/>
<text x="512.20" y="412.20" font-size="10" text-anchor="start" font-weight="normal" font-style="normal" fill="#000" >H9(ii)</text>
<rect x="61.0" y="488.3" width="201.90" height="162.90" fill="none" stroke="#1e1e1e" stroke-width="1.3"/>
<line x1="58.00" y1="651.30" x2="61.00" y2="651.30" stroke="#1e1e1e" stroke-width="1" />
<text x="53.10" y="655.10" font-size="10" text-anchor="end" font-weight="normal" font-style="normal" fill="#000" >4</text>
<line x1="58.00" y1="610.50" x2="61.00" y2="610.50" stroke="#1e1e1e" stroke-width="1" />
<text x="53.10" y="614.30" font-size="10" text-anchor="end" font-weight="normal" font-style="normal" fill="#000" >6</text>
<line x1="58.00" y1="569.70" x2="61.00" y2="569.70" stroke="#1e1e1e" stroke-width="1" />
<text x="53.10" y="573.50" font-size="10" text-anchor="end" font-weight="normal" font-style="normal" fill="#000" >8</text>
<line x1="58.00" y1="528.90" x2="61.00" y2="528.90" stroke="#1e1e1e" stroke-width="1" />
<text x="53.10" y="532.70" font-size="10" text-anchor="end" font-weight="normal" font-style="normal" fill="#000" >10</text>
<line x1="58.00" y1="488.10" x2="61.00" y2="488.10" stroke="#1e1e1e" stroke-width="1" />
<text x="53.10" y="491.90" font-size="10" text-anchor="end" font-weight="normal" font-style="normal" fill="#000" >12</text>
<line x1="61.20" y1="651.20" x2="61.20" y2="654.20" stroke="#1e1e1e" stroke-width="1" />
<text x="61.20" y="667.10" font-size="10" text-anchor="middle" font-weight="normal" font-style="normal" fill="#000" >0.00</text>
<line x1="109.40" y1="651.20" x2="109.40" y2="654.20" stroke="#1e1e1e" stroke-width="1" />
<text x="109.40" y="667.10" font-size="10" text-anchor="middle" font-weight="normal" font-style="normal" fill="#000" >10.00</text>
<line x1="157.60" y1="651.20" x2="157.60" y2="654.20" stroke="#1e1e1e" stroke-width="1" />
<text x="157.60" y="667.10" font-size="10" text-anchor="middle" font-weight="normal" font-style="normal" fill="#000" >20.00</text>
<line x1="205.80" y1="651.20" x2="205.80" y2="654.20" stroke="#1e1e1e" stroke-width="1" />
<text x="205.80" y="667.10" font-size="10" text-anchor="middle" font-weight="normal" font-style="normal" fill="#000" >30.00</text>
<line x1="254.00" y1="651.20" x2="254.00" y2="654.20" stroke="#1e1e1e" stroke-width="1" />
<text x="254.00" y="667.10" font-size="10" text-anchor="middle" font-weight="normal" font-style="normal" fill="#000" >40.00</text>
<text x="152.20" y="682.30" font-size="10.2" text-anchor="middle" font-weight="bold" font-style="normal" fill="#000" >HA Conc. (µg/mL)</text>
<text x="0.00" y="0.00" font-size="10" text-anchor="middle" font-weight="bold" font-style="normal" fill="#000" transform="translate(32.3,570) rotate(-90)">Spot size (mm)</text>
<text x="-0.70" y="482.00" font-size="18" text-anchor="start" font-weight="bold" font-style="normal" fill="#000" >e</text>
<line x1="62.89" y1="599.28" x2="263.16" y2="495.24" stroke="#FF0000" stroke-width="1.1" stroke-dasharray="3.8,3"/>
<line x1="67.47" y1="608.87" x2="67.47" y2="632.53" stroke="#000" stroke-width="1" />
<line x1="64.47" y1="608.87" x2="70.47" y2="608.87" stroke="#000" stroke-width="1" />
<line x1="64.47" y1="632.53" x2="70.47" y2="632.53" stroke="#000" stroke-width="1" />
<line x1="259.78" y1="503.20" x2="259.78" y2="517.88" stroke="#000" stroke-width="1" />
<line x1="256.78" y1="503.20" x2="262.78" y2="503.20" stroke="#000" stroke-width="1" />
<line x1="256.78" y1="517.88" x2="262.78" y2="517.88" stroke="#000" stroke-width="1" />
<line x1="111.33" y1="567.25" x2="111.33" y2="583.57" stroke="#000" stroke-width="1" />
<line x1="108.33" y1="567.25" x2="114.33" y2="567.25" stroke="#000" stroke-width="1" />
<line x1="108.33" y1="583.57" x2="114.33" y2="583.57" stroke="#000" stroke-width="1" />
<line x1="160.49" y1="539.10" x2="160.49" y2="551.34" stroke="#000" stroke-width="1" />
<line x1="157.49" y1="539.10" x2="163.49" y2="539.10" stroke="#000" stroke-width="1" />
<line x1="157.49" y1="551.34" x2="163.49" y2="551.34" stroke="#000" stroke-width="1" />
<rect x="60.73" y="636.48" width="7.2" height="7.2" fill="#4472C4"/>
<rect x="63.87" y="617.10" width="7.2" height="7.2" fill="#4472C4"/>
<rect x="70.13" y="602.82" width="7.2" height="7.2" fill="#4472C4"/>
<rect x="256.18" y="506.94" width="7.2" height="7.2" fill="#4472C4"/>
<rect x="82.66" y="584.46" width="7.2" height="7.2" fill="#FF0000"/>
<rect x="107.73" y="571.81" width="7.2" height="7.2" fill="#FF0000"/>
<rect x="156.89" y="541.62" width="7.2" height="7.2" fill="#FF0000"/>
<rect x="207.74" y="519.79" width="7.2" height="7.2" fill="#FF0000"/>
<text x="285.00" y="545.70" font-size="18" text-anchor="start" font-weight="bold" font-style="normal" fill="#000" >f</text>
<defs><filter id="bl" x="-50%" y="-50%" width="200%" height="200%"><feGaussianBlur stdDeviation="0.6"/></filter><filter id="bl2" x="-50%" y="-50%" width="200%" height="200%"><feGaussianBlur stdDeviation="0.45"/></filter></defs>
<rect x="286.1" y="552.9" width="23.6" height="27.9" fill="#B2B5E2"/>
<rect x="311.2" y="552.9" width="83.7" height="27.9" fill="#B2B5E2"/>
<rect x="396.2" y="552.9" width="147.7" height="27.9" fill="#B2B5E2"/>
<circle cx="299.5" cy="565.7" r="3.6" fill="#EBEBE4" filter="url(#bl2)"/>
<circle cx="320.6" cy="567.1" r="3.6" fill="#EBEBE4" filter="url(#bl2)"/>
<g filter="url(#bl)">
<circle cx="352.3" cy="567.4" r="5.3" fill="#9398DA" fill-opacity="0.40"/>
</g>
<circle cx="352.3" cy="567.4" r="3.9" fill="#EBEBE4" filter="url(#bl2)"/>
<g filter="url(#bl)">
<circle cx="383" cy="567.4" r="5.9" fill="#9398DA" fill-opacity="0.50"/>
</g>
<circle cx="383" cy="567.4" r="4.0" fill="#EBEBE4" filter="url(#bl2)"/>
<g filter="url(#bl)">
<circle cx="408.4" cy="566.1" r="6.6" fill="#9398DA" fill-opacity="0.61"/>
</g>
<circle cx="408.4" cy="566.1" r="4.1" fill="#EBEBE4" filter="url(#bl2)"/>
<g filter="url(#bl)">
<circle cx="439.6" cy="566.9" r="7.6" fill="#9398DA" fill-opacity="0.77"/>
<circle cx="439.6" cy="566.9" r="5.47" fill="#A4A8DF"/>
<circle cx="439.6" cy="566.9" r="5.70" fill="#959ADB"/>
</g>
<circle cx="439.6" cy="566.9" r="4.0" fill="#EBEBE4" filter="url(#bl2)"/>
<g filter="url(#bl)">
<circle cx="470" cy="566.8" r="8.8" fill="#9398DA" fill-opacity="0.97"/>
<circle cx="470" cy="566.8" r="6.34" fill="#A4A8DF"/>
<circle cx="470" cy="566.8" r="5.70" fill="#959ADB"/>
</g>
<circle cx="470" cy="566.8" r="4.0" fill="#EBEBE4" filter="url(#bl2)"/>
<g filter="url(#bl)">
<circle cx="501.2" cy="566.8" r="9.7" fill="#9398DA" fill-opacity="1.00"/>
<circle cx="501.2" cy="566.8" r="6.98" fill="#A4A8DF"/>
<circle cx="501.2" cy="566.8" r="5.50" fill="#959ADB"/>
</g>
<circle cx="501.2" cy="566.8" r="3.8" fill="#EBEBE4" filter="url(#bl2)"/>
<g filter="url(#bl)">
<circle cx="531.8" cy="567.1" r="10.5" fill="#9398DA" fill-opacity="1.00"/>
<circle cx="531.8" cy="567.1" r="7.56" fill="#A4A8DF"/>
<circle cx="531.8" cy="567.1" r="5.80" fill="#959ADB"/>
</g>
<circle cx="531.8" cy="567.1" r="4.1" fill="#EBEBE4" filter="url(#bl2)"/>
<text x="297.80" y="596.20" font-size="10.8" text-anchor="middle" font-weight="normal" font-style="normal" fill="#000" >0</text>
<text x="317.50" y="596.20" font-size="10.8" text-anchor="middle" font-weight="normal" font-style="normal" fill="#000" >0.5</text>
<text x="350.00" y="596.20" font-size="10.8" text-anchor="middle" font-weight="normal" font-style="normal" fill="#000" >1.25</text>
<text x="381.40" y="596.20" font-size="10.8" text-anchor="middle" font-weight="normal" font-style="normal" fill="#000" >2.5</text>
<text x="408.00" y="596.20" font-size="10.8" text-anchor="middle" font-weight="normal" font-style="normal" fill="#000" >5</text>
<text x="439.90" y="596.20" font-size="10.8" text-anchor="middle" font-weight="normal" font-style="normal" fill="#000" >10</text>
<text x="469.80" y="596.20" font-size="10.8" text-anchor="middle" font-weight="normal" font-style="normal" fill="#000" >20</text>
<text x="501.30" y="596.20" font-size="10.8" text-anchor="middle" font-weight="normal" font-style="normal" fill="#000" >30</text>
<text x="532.00" y="596.20" font-size="10.8" text-anchor="middle" font-weight="normal" font-style="normal" fill="#000" >40</text>
<text x="414.70" y="618.00" font-size="10" text-anchor="middle" font-weight="bold" font-style="normal" fill="#000" >HA Conc. (µg/mL)</text>
</svg>
</body></html>
